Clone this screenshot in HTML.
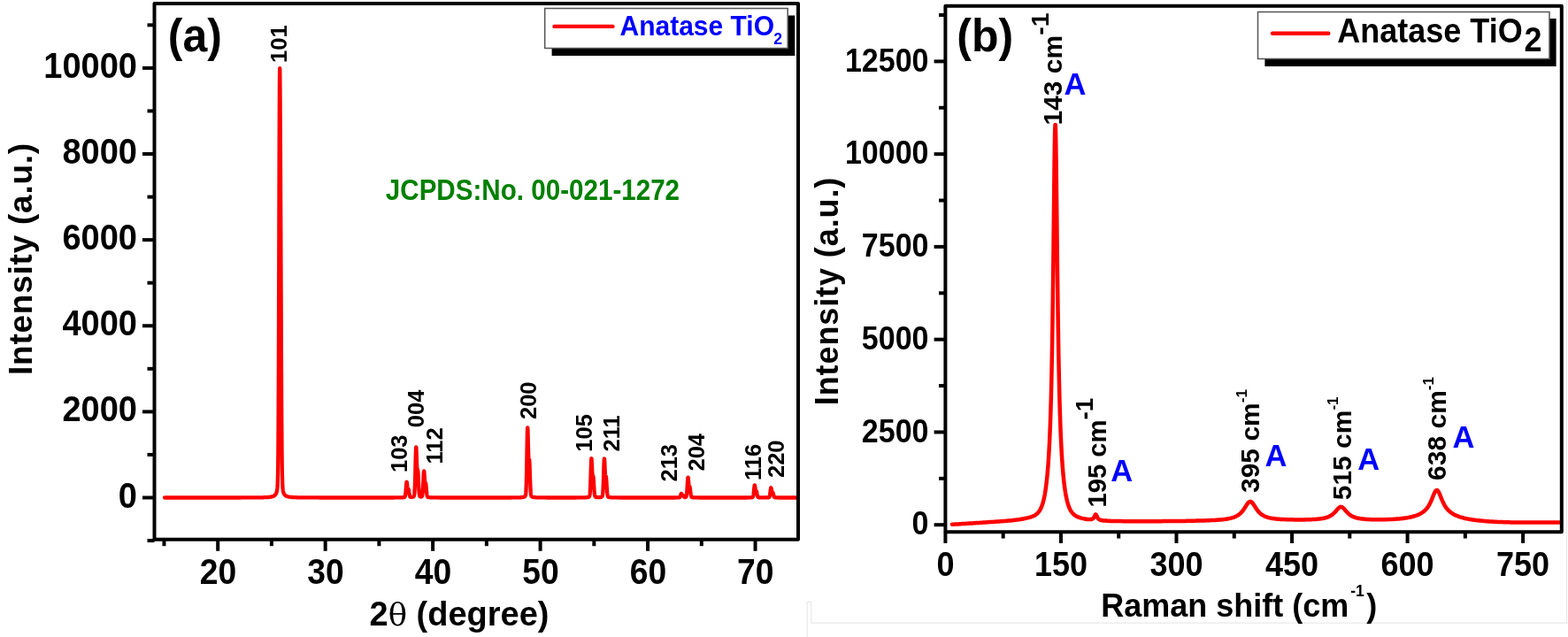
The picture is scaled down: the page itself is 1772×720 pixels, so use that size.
<!DOCTYPE html>
<html><head><meta charset="utf-8"><title>Anatase TiO2 XRD and Raman</title>
<style>html,body{margin:0;padding:0;background:#fff;} body{width:1772px;height:720px;overflow:hidden;} svg{display:block;}</style>
</head><body>
<svg width="1772" height="720" viewBox="0 0 1772 720">
<rect x="0" y="0" width="1772" height="720" fill="#ffffff"/>
<g stroke="#e9e9e9" stroke-width="1.2" fill="none">
<path d="M912.3,720 V680.3 H916.7 V704.2 H1772"/>
<path d="M1770.5,0 V704.2"/>
</g>
<polyline points="186.0,562.5 187.0,562.5 188.0,562.5 189.0,562.5 190.0,562.5 191.0,562.5 192.0,562.5 193.0,562.5 194.0,562.5 195.0,562.5 196.0,562.5 197.0,562.5 198.0,562.5 199.0,562.5 200.0,562.5 201.0,562.5 202.0,562.5 203.0,562.5 204.0,562.5 205.0,562.5 206.0,562.5 207.0,562.5 208.0,562.5 209.0,562.5 210.0,562.5 211.0,562.5 212.0,562.5 213.0,562.5 214.0,562.5 215.0,562.5 216.0,562.5 217.0,562.5 218.0,562.5 219.0,562.5 220.0,562.5 221.0,562.5 222.0,562.5 223.0,562.5 224.0,562.5 225.0,562.5 226.0,562.5 227.0,562.5 228.0,562.5 229.0,562.5 230.0,562.5 231.0,562.5 232.0,562.5 233.0,562.5 234.0,562.5 235.0,562.5 236.0,562.5 237.0,562.5 238.0,562.5 239.0,562.5 240.0,562.5 241.0,562.5 242.0,562.5 243.0,562.5 244.0,562.5 245.0,562.5 246.0,562.5 247.0,562.5 248.0,562.5 249.0,562.5 250.0,562.5 251.0,562.5 252.0,562.5 253.0,562.5 254.0,562.5 255.0,562.5 256.0,562.5 257.0,562.5 258.0,562.5 259.0,562.5 260.0,562.5 261.0,562.5 262.0,562.5 263.0,562.5 264.0,562.5 265.0,562.5 266.0,562.5 267.0,562.5 268.0,562.5 269.0,562.5 270.0,562.5 271.0,562.5 272.0,562.5 273.0,562.4 274.0,562.4 275.0,562.4 276.0,562.4 277.0,562.4 278.0,562.4 279.0,562.4 280.0,562.4 281.0,562.4 282.0,562.4 283.0,562.4 284.0,562.4 285.0,562.4 286.0,562.4 287.0,562.4 288.0,562.4 289.0,562.4 290.0,562.4 291.0,562.4 292.0,562.3 293.0,562.3 294.0,562.3 295.0,562.3 296.0,562.3 297.0,562.3 298.0,562.2 299.0,562.2 300.0,562.2 301.0,562.1 302.0,562.1 303.0,562.0 304.0,561.9 305.0,561.8 306.0,561.6 307.0,561.4 308.0,561.2 308.1,561.2 308.2,561.1 308.3,561.1 308.4,561.1 308.5,561.0 308.6,561.0 308.7,560.9 308.8,560.9 308.9,560.9 309.0,560.8 309.1,560.8 309.2,560.7 309.3,560.7 309.4,560.6 309.5,560.6 309.6,560.5 309.7,560.4 309.8,560.4 309.9,560.3 310.0,560.2 310.1,560.2 310.2,560.1 310.3,560.0 310.4,559.9 310.5,559.8 310.6,559.8 310.7,559.7 310.8,559.6 310.9,559.4 311.0,559.3 311.1,559.2 311.2,559.1 311.3,559.0 311.4,558.8 311.5,558.7 311.6,558.5 311.7,558.3 311.8,558.2 311.9,558.0 312.0,557.8 312.1,557.5 312.2,557.3 312.3,557.0 312.4,556.8 312.5,556.5 312.6,556.2 312.7,555.8 312.8,555.4 312.9,555.0 313.0,554.5 313.1,554.0 313.2,553.4 313.3,552.6 313.4,551.7 313.5,550.5 313.6,549.0 313.7,547.1 313.8,544.7 313.9,541.5 314.0,537.3 314.1,532.0 314.2,525.1 314.3,516.3 314.4,505.4 314.5,492.0 314.6,475.8 314.7,456.5 314.8,434.0 314.9,408.4 315.0,379.8 315.1,348.5 315.2,315.1 315.3,280.4 315.4,245.3 315.5,210.9 315.6,178.4 315.7,148.9 315.8,123.5 315.9,103.2 316.0,88.6 316.1,80.0 316.2,77.1 316.3,79.7 316.4,87.0 316.5,98.1 316.6,112.4 316.7,129.1 316.8,147.6 316.9,167.5 317.0,188.5 317.1,210.6 317.2,233.4 317.3,257.1 317.4,281.3 317.5,305.8 317.6,330.4 317.7,354.6 317.8,378.2 317.9,400.8 318.0,422.0 318.1,441.7 318.2,459.6 318.3,475.7 318.4,489.8 318.5,502.1 318.6,512.5 318.7,521.3 318.8,528.5 318.9,534.3 319.0,539.1 319.1,542.8 319.2,545.8 319.3,548.1 319.4,549.9 319.5,551.3 319.6,552.4 319.7,553.3 319.8,554.1 319.9,554.7 320.0,555.2 320.1,555.6 320.2,556.0 320.3,556.4 320.4,556.7 320.5,557.0 320.6,557.2 320.7,557.5 320.8,557.7 320.9,557.9 321.0,558.1 321.1,558.3 321.2,558.5 321.3,558.6 321.4,558.8 321.5,558.9 321.6,559.1 321.7,559.2 321.8,559.3 321.9,559.4 322.0,559.5 322.1,559.6 322.2,559.7 322.3,559.8 322.4,559.9 322.5,560.0 322.6,560.1 322.7,560.2 322.8,560.2 322.9,560.3 323.0,560.4 323.1,560.4 323.2,560.5 323.3,560.5 323.4,560.6 323.5,560.7 323.6,560.7 323.7,560.8 323.8,560.8 323.9,560.8 324.0,560.9 325.0,561.2 326.0,561.5 327.0,561.7 328.0,561.8 329.0,561.9 330.0,562.0 331.0,562.1 332.0,562.1 333.0,562.2 334.0,562.2 335.0,562.2 336.0,562.3 337.0,562.3 338.0,562.3 339.0,562.3 340.0,562.3 341.0,562.3 342.0,562.4 343.0,562.4 344.0,562.4 345.0,562.4 346.0,562.4 347.0,562.4 348.0,562.4 349.0,562.4 350.0,562.4 351.0,562.4 352.0,562.4 353.0,562.4 354.0,562.4 355.0,562.4 356.0,562.4 357.0,562.4 358.0,562.4 359.0,562.4 360.0,562.4 361.0,562.5 362.0,562.5 363.0,562.5 364.0,562.5 365.0,562.5 366.0,562.5 367.0,562.5 368.0,562.5 369.0,562.5 370.0,562.5 371.0,562.5 372.0,562.5 373.0,562.5 374.0,562.5 375.0,562.5 376.0,562.5 377.0,562.5 378.0,562.5 379.0,562.5 380.0,562.5 381.0,562.5 382.0,562.5 383.0,562.5 384.0,562.5 385.0,562.5 386.0,562.5 387.0,562.5 388.0,562.5 389.0,562.5 390.0,562.5 391.0,562.5 392.0,562.5 393.0,562.5 394.0,562.5 395.0,562.5 396.0,562.5 397.0,562.5 398.0,562.5 399.0,562.5 400.0,562.5 401.0,562.5 402.0,562.5 403.0,562.5 404.0,562.5 405.0,562.5 406.0,562.5 407.0,562.5 408.0,562.5 409.0,562.5 410.0,562.5 411.0,562.5 412.0,562.5 413.0,562.5 414.0,562.5 415.0,562.5 416.0,562.5 417.0,562.5 418.0,562.5 419.0,562.5 420.0,562.5 421.0,562.5 422.0,562.5 423.0,562.5 424.0,562.5 425.0,562.5 426.0,562.5 427.0,562.5 428.0,562.5 429.0,562.5 430.0,562.5 431.0,562.5 432.0,562.5 433.0,562.5 434.0,562.5 435.0,562.5 436.0,562.5 437.0,562.5 438.0,562.5 439.0,562.5 440.0,562.5 441.0,562.5 442.0,562.5 443.0,562.5 444.0,562.5 445.0,562.5 446.0,562.4 447.0,562.4 448.0,562.4 449.0,562.4 450.0,562.4 451.0,562.4 451.6,562.4 451.7,562.4 451.8,562.4 451.9,562.4 452.0,562.4 452.1,562.4 452.2,562.4 452.3,562.4 452.4,562.4 452.5,562.4 452.6,562.4 452.7,562.4 452.8,562.4 452.9,562.4 453.0,562.4 453.1,562.4 453.2,562.4 453.3,562.4 453.4,562.4 453.5,562.4 453.6,562.4 453.7,562.3 453.8,562.3 453.9,562.3 454.0,562.3 454.1,562.3 454.2,562.3 454.3,562.3 454.4,562.3 454.5,562.3 454.6,562.3 454.7,562.3 454.8,562.3 454.9,562.3 455.0,562.3 455.1,562.3 455.2,562.3 455.3,562.3 455.4,562.3 455.5,562.3 455.6,562.2 455.7,562.2 455.8,562.2 455.9,562.2 456.0,562.2 456.1,562.2 456.2,562.2 456.3,562.2 456.4,562.1 456.5,562.1 456.6,562.1 456.7,562.1 456.8,562.1 456.9,562.0 457.0,562.0 457.1,561.9 457.2,561.9 457.3,561.8 457.4,561.7 457.5,561.6 457.6,561.4 457.7,561.2 457.8,560.9 457.9,560.5 458.0,560.1 458.1,559.5 458.2,558.9 458.3,558.1 458.4,557.2 458.5,556.1 458.6,555.0 458.7,553.7 458.8,552.4 458.9,551.1 459.0,549.7 459.1,548.4 459.2,547.3 459.3,546.3 459.4,545.5 459.5,545.0 459.6,544.7 459.7,544.8 459.8,545.1 459.9,545.6 460.0,546.4 460.1,547.2 460.2,548.2 460.3,549.1 460.4,550.0 460.5,550.8 460.6,551.4 460.7,551.9 460.8,552.3 460.9,552.6 461.0,552.7 461.1,552.7 461.2,552.7 461.3,552.6 461.4,552.6 461.5,552.7 461.6,552.8 461.7,553.1 461.8,553.4 461.9,553.9 462.0,554.4 462.1,555.0 462.2,555.7 462.3,556.4 462.4,557.1 462.5,557.7 462.6,558.4 462.7,559.0 462.8,559.5 462.9,559.9 463.0,560.3 463.1,560.7 463.2,561.0 463.3,561.2 463.4,561.4 463.5,561.5 463.6,561.6 463.7,561.7 463.8,561.8 463.9,561.8 464.0,561.8 464.1,561.9 464.2,561.9 464.3,561.9 464.4,561.9 464.5,561.9 464.6,561.9 464.7,561.9 464.8,561.9 464.9,561.9 465.0,561.9 465.1,561.9 465.2,561.9 465.3,561.9 465.4,561.9 465.5,561.9 465.6,561.8 465.7,561.8 465.8,561.8 465.9,561.8 466.0,561.8 466.1,561.8 466.2,561.7 466.3,561.7 466.4,561.7 466.5,561.7 466.6,561.6 466.7,561.6 466.8,561.6 466.9,561.5 467.0,561.5 467.1,561.4 467.2,561.4 467.3,561.3 467.4,561.2 467.5,561.1 467.6,561.0 467.7,560.9 467.8,560.7 467.9,560.4 468.0,560.1 468.1,559.7 468.2,559.1 468.3,558.4 468.4,557.5 468.5,556.3 468.6,554.9 468.7,553.1 468.8,551.0 468.9,548.4 469.0,545.5 469.1,542.1 469.2,538.4 469.3,534.4 469.4,530.1 469.5,525.7 469.6,521.4 469.7,517.3 469.8,513.5 469.9,510.3 470.0,507.8 470.1,506.2 470.2,505.4 470.3,505.5 470.4,506.5 470.5,508.3 470.6,510.7 470.7,513.5 470.8,516.5 470.9,519.5 471.0,522.3 471.1,524.9 471.2,527.0 471.3,528.7 471.4,530.0 471.5,530.7 471.6,531.1 471.7,531.2 471.8,531.1 471.9,531.0 472.0,531.0 472.1,531.1 472.2,531.6 472.3,532.4 472.4,533.5 472.5,535.0 472.6,536.8 472.7,538.8 472.8,541.0 472.9,543.2 473.0,545.4 473.1,547.6 473.2,549.7 473.3,551.6 473.4,553.3 473.5,554.8 473.6,556.1 473.7,557.2 473.8,558.1 473.9,558.8 474.0,559.4 474.1,559.9 474.2,560.3 474.3,560.5 474.4,560.8 474.5,560.9 474.6,561.1 474.7,561.2 474.8,561.2 474.9,561.3 475.0,561.3 475.1,561.4 475.2,561.4 475.3,561.4 475.4,561.4 475.5,561.5 475.6,561.5 475.7,561.5 475.8,561.5 475.9,561.5 476.0,561.5 476.1,561.5 476.2,561.4 476.3,561.4 476.4,561.4 476.5,561.3 476.6,561.3 476.7,561.2 476.8,561.1 476.9,560.9 477.0,560.7 477.1,560.4 477.2,560.1 477.3,559.6 477.4,559.0 477.5,558.3 477.6,557.3 477.7,556.2 477.8,554.9 477.9,553.3 478.0,551.6 478.1,549.6 478.2,547.5 478.3,545.3 478.4,543.0 478.5,540.8 478.6,538.6 478.7,536.6 478.8,535.0 478.9,533.6 479.0,532.8 479.1,532.4 479.2,532.5 479.3,533.0 479.4,533.9 479.5,535.2 479.6,536.6 479.7,538.2 479.8,539.8 479.9,541.3 480.0,542.7 480.1,543.8 480.2,544.7 480.3,545.3 480.4,545.7 480.5,545.9 480.6,546.0 480.7,546.0 480.8,545.9 480.9,545.9 481.0,546.0 481.1,546.2 481.2,546.6 481.3,547.2 481.4,548.0 481.5,549.0 481.6,550.0 481.7,551.2 481.8,552.3 481.9,553.5 482.0,554.7 482.1,555.8 482.2,556.8 482.3,557.7 482.4,558.5 482.5,559.1 482.6,559.7 482.7,560.2 482.8,560.6 482.9,560.9 483.0,561.2 483.1,561.4 483.2,561.5 483.3,561.6 483.4,561.7 483.5,561.8 483.6,561.9 483.7,561.9 483.8,561.9 483.9,562.0 484.0,562.0 484.1,562.0 484.2,562.0 484.3,562.1 484.4,562.1 484.5,562.1 484.6,562.1 484.7,562.1 484.8,562.1 484.9,562.2 485.0,562.2 485.1,562.2 485.2,562.2 485.3,562.2 485.4,562.2 485.5,562.2 485.6,562.2 485.7,562.2 485.8,562.2 485.9,562.2 486.0,562.3 486.1,562.3 486.2,562.3 486.3,562.3 486.4,562.3 486.5,562.3 486.6,562.3 486.7,562.3 486.8,562.3 486.9,562.3 487.0,562.3 487.1,562.3 488.0,562.3 489.0,562.4 490.0,562.4 491.0,562.4 492.0,562.4 493.0,562.4 494.0,562.4 495.0,562.4 496.0,562.4 497.0,562.5 498.0,562.5 499.0,562.5 500.0,562.5 501.0,562.5 502.0,562.5 503.0,562.5 504.0,562.5 505.0,562.5 506.0,562.5 507.0,562.5 508.0,562.5 509.0,562.5 510.0,562.5 511.0,562.5 512.0,562.5 513.0,562.5 514.0,562.5 515.0,562.5 516.0,562.5 517.0,562.5 518.0,562.5 519.0,562.5 520.0,562.5 521.0,562.5 522.0,562.5 523.0,562.5 524.0,562.5 525.0,562.5 526.0,562.5 527.0,562.5 528.0,562.5 529.0,562.5 530.0,562.5 531.0,562.5 532.0,562.5 533.0,562.5 534.0,562.5 535.0,562.5 536.0,562.5 537.0,562.5 538.0,562.5 539.0,562.5 540.0,562.5 541.0,562.5 542.0,562.5 543.0,562.5 544.0,562.5 545.0,562.5 546.0,562.5 547.0,562.5 548.0,562.5 549.0,562.5 550.0,562.5 551.0,562.5 552.0,562.5 553.0,562.5 554.0,562.5 555.0,562.5 556.0,562.5 557.0,562.5 558.0,562.5 559.0,562.5 560.0,562.5 561.0,562.5 562.0,562.5 563.0,562.5 564.0,562.5 565.0,562.5 566.0,562.5 567.0,562.5 568.0,562.5 569.0,562.5 570.0,562.5 571.0,562.5 572.0,562.5 573.0,562.5 574.0,562.5 575.0,562.5 576.0,562.5 577.0,562.5 578.0,562.4 579.0,562.4 580.0,562.4 581.0,562.4 582.0,562.4 583.0,562.4 584.0,562.4 585.0,562.4 586.0,562.3 587.0,562.3 588.0,562.3 588.2,562.3 588.3,562.3 588.4,562.2 588.5,562.2 588.6,562.2 588.7,562.2 588.8,562.2 588.9,562.2 589.0,562.2 589.1,562.2 589.2,562.2 589.3,562.2 589.4,562.2 589.5,562.2 589.6,562.2 589.7,562.1 589.8,562.1 589.9,562.1 590.0,562.1 590.1,562.1 590.2,562.1 590.3,562.1 590.4,562.1 590.5,562.1 590.6,562.0 590.7,562.0 590.8,562.0 590.9,562.0 591.0,562.0 591.1,562.0 591.2,561.9 591.3,561.9 591.4,561.9 591.5,561.9 591.6,561.8 591.7,561.8 591.8,561.8 591.9,561.8 592.0,561.7 592.1,561.7 592.2,561.7 592.3,561.6 592.4,561.6 592.5,561.5 592.6,561.5 592.7,561.4 592.8,561.4 592.9,561.3 593.0,561.3 593.1,561.2 593.2,561.1 593.3,561.0 593.4,560.9 593.5,560.7 593.6,560.6 593.7,560.4 593.8,560.1 593.9,559.8 594.0,559.3 594.1,558.7 594.2,558.0 594.3,557.0 594.4,555.7 594.5,554.1 594.6,552.1 594.7,549.6 594.8,546.7 594.9,543.1 595.0,539.0 595.1,534.4 595.2,529.2 595.3,523.6 595.4,517.7 595.5,511.6 595.6,505.6 595.7,499.9 595.8,494.6 595.9,490.2 596.0,486.7 596.1,484.4 596.2,483.3 596.3,483.5 596.4,484.9 596.5,487.4 596.6,490.7 596.7,494.6 596.8,498.7 596.9,502.9 597.0,506.9 597.1,510.4 597.2,513.4 597.3,515.8 597.4,517.5 597.5,518.5 597.6,519.1 597.7,519.2 597.8,519.1 597.9,519.0 598.0,518.9 598.1,519.1 598.2,519.8 598.3,520.9 598.4,522.4 598.5,524.5 598.6,527.0 598.7,529.8 598.8,532.8 598.9,535.9 599.0,539.1 599.1,542.1 599.2,545.0 599.3,547.6 599.4,550.0 599.5,552.1 599.6,553.9 599.7,555.4 599.8,556.7 599.9,557.7 600.0,558.5 600.1,559.2 600.2,559.7 600.3,560.1 600.4,560.4 600.5,560.7 600.6,560.9 600.7,561.0 600.8,561.1 600.9,561.2 601.0,561.3 601.1,561.4 601.2,561.5 601.3,561.5 601.4,561.6 601.5,561.6 601.6,561.6 601.7,561.7 601.8,561.7 601.9,561.8 602.0,561.8 602.1,561.8 602.2,561.8 602.3,561.9 602.4,561.9 602.5,561.9 602.6,561.9 602.7,562.0 602.8,562.0 602.9,562.0 603.0,562.0 603.1,562.0 603.2,562.0 603.3,562.1 603.4,562.1 603.5,562.1 603.6,562.1 603.7,562.1 603.8,562.1 603.9,562.1 604.0,562.1 604.1,562.1 604.2,562.2 605.0,562.2 606.0,562.3 607.0,562.3 608.0,562.4 609.0,562.4 610.0,562.4 611.0,562.4 612.0,562.4 613.0,562.4 614.0,562.4 615.0,562.4 616.0,562.4 617.0,562.4 618.0,562.5 619.0,562.5 620.0,562.5 621.0,562.5 622.0,562.5 623.0,562.5 624.0,562.5 625.0,562.5 626.0,562.5 627.0,562.5 628.0,562.5 629.0,562.5 630.0,562.5 631.0,562.5 632.0,562.5 633.0,562.5 634.0,562.5 635.0,562.5 636.0,562.5 637.0,562.5 638.0,562.5 639.0,562.5 640.0,562.5 641.0,562.5 642.0,562.5 643.0,562.5 644.0,562.5 645.0,562.5 646.0,562.5 647.0,562.5 648.0,562.5 649.0,562.5 650.0,562.5 651.0,562.5 652.0,562.4 653.0,562.4 654.0,562.4 655.0,562.4 656.0,562.4 657.0,562.4 658.0,562.4 659.0,562.4 660.0,562.4 660.4,562.3 660.5,562.3 660.6,562.3 660.7,562.3 660.8,562.3 660.9,562.3 661.0,562.3 661.1,562.3 661.2,562.3 661.3,562.3 661.4,562.3 661.5,562.3 661.6,562.3 661.7,562.3 661.8,562.3 661.9,562.3 662.0,562.3 662.1,562.3 662.2,562.3 662.3,562.3 662.4,562.2 662.5,562.2 662.6,562.2 662.7,562.2 662.8,562.2 662.9,562.2 663.0,562.2 663.1,562.2 663.2,562.2 663.3,562.2 663.4,562.2 663.5,562.1 663.6,562.1 663.7,562.1 663.8,562.1 663.9,562.1 664.0,562.1 664.1,562.1 664.2,562.0 664.3,562.0 664.4,562.0 664.5,562.0 664.6,562.0 664.7,561.9 664.8,561.9 664.9,561.9 665.0,561.8 665.1,561.8 665.2,561.8 665.3,561.7 665.4,561.7 665.5,561.6 665.6,561.6 665.7,561.5 665.8,561.4 665.9,561.3 666.0,561.1 666.1,560.9 666.2,560.7 666.3,560.4 666.4,559.9 666.5,559.4 666.6,558.7 666.7,557.8 666.8,556.6 666.9,555.3 667.0,553.6 667.1,551.6 667.2,549.3 667.3,546.7 667.4,543.8 667.5,540.7 667.6,537.4 667.7,534.0 667.8,530.6 667.9,527.4 668.0,524.5 668.1,522.0 668.2,520.0 668.3,518.7 668.4,518.1 668.5,518.3 668.6,519.0 668.7,520.4 668.8,522.3 668.9,524.4 669.0,526.8 669.1,529.1 669.2,531.3 669.3,533.3 669.4,535.0 669.5,536.3 669.6,537.2 669.7,537.8 669.8,538.1 669.9,538.2 670.0,538.2 670.1,538.1 670.2,538.1 670.3,538.2 670.4,538.5 670.5,539.1 670.6,540.0 670.7,541.2 670.8,542.6 670.9,544.1 671.0,545.8 671.1,547.6 671.2,549.3 671.3,551.0 671.4,552.6 671.5,554.1 671.6,555.4 671.7,556.6 671.8,557.6 671.9,558.5 672.0,559.2 672.1,559.7 672.2,560.2 672.3,560.6 672.4,560.9 672.5,561.1 672.6,561.3 672.7,561.4 672.8,561.5 672.9,561.6 673.0,561.7 673.1,561.7 673.2,561.8 673.3,561.8 673.4,561.8 673.5,561.9 673.6,561.9 673.7,561.9 673.8,561.9 673.9,561.9 674.0,562.0 674.1,562.0 674.2,562.0 674.3,562.0 674.4,562.0 674.5,562.0 674.6,562.0 674.7,562.0 674.8,562.1 674.9,562.1 675.0,562.1 675.1,562.1 675.2,562.1 675.3,562.1 675.4,562.1 675.5,562.1 675.6,562.1 675.7,562.1 675.8,562.1 675.9,562.1 676.0,562.1 676.1,562.1 676.2,562.1 676.3,562.1 676.4,562.1 676.5,562.1 676.6,562.1 676.7,562.1 676.8,562.1 676.9,562.1 677.0,562.1 677.1,562.1 677.2,562.1 677.3,562.1 677.4,562.1 677.5,562.1 677.6,562.1 677.7,562.1 677.8,562.1 677.9,562.1 678.0,562.0 678.1,562.0 678.2,562.0 678.3,562.0 678.4,562.0 678.5,562.0 678.6,562.0 678.7,562.0 678.8,561.9 678.9,561.9 679.0,561.9 679.1,561.9 679.2,561.9 679.3,561.8 679.4,561.8 679.5,561.8 679.6,561.8 679.7,561.7 679.8,561.7 679.9,561.6 680.0,561.6 680.1,561.5 680.2,561.4 680.3,561.4 680.4,561.2 680.5,561.1 680.6,560.9 680.7,560.7 680.8,560.3 680.9,559.9 681.0,559.4 681.1,558.7 681.2,557.8 681.3,556.7 681.4,555.3 681.5,553.6 681.6,551.7 681.7,549.4 681.8,546.8 681.9,544.0 682.0,540.9 682.1,537.6 682.2,534.2 682.3,530.9 682.4,527.7 682.5,524.8 682.6,522.3 682.7,520.4 682.8,519.1 682.9,518.5 683.0,518.6 683.1,519.4 683.2,520.8 683.3,522.6 683.4,524.8 683.5,527.1 683.6,529.4 683.7,531.6 683.8,533.6 683.9,535.2 684.0,536.5 684.1,537.5 684.2,538.1 684.3,538.4 684.4,538.4 684.5,538.4 684.6,538.3 684.7,538.3 684.8,538.4 684.9,538.8 685.0,539.4 685.1,540.3 685.2,541.4 685.3,542.8 685.4,544.3 685.5,546.0 685.6,547.7 685.7,549.5 685.8,551.1 685.9,552.7 686.0,554.2 686.1,555.5 686.2,556.7 686.3,557.7 686.4,558.5 686.5,559.2 686.6,559.8 686.7,560.3 686.8,560.6 686.9,560.9 687.0,561.2 687.1,561.3 687.2,561.5 687.3,561.6 687.4,561.7 687.5,561.7 687.6,561.8 687.7,561.8 687.8,561.9 687.9,561.9 688.0,561.9 688.1,562.0 688.2,562.0 688.3,562.0 688.4,562.0 688.5,562.0 688.6,562.1 688.7,562.1 688.8,562.1 688.9,562.1 689.0,562.1 689.1,562.1 689.2,562.1 689.3,562.2 689.4,562.2 689.5,562.2 689.6,562.2 689.7,562.2 689.8,562.2 689.9,562.2 690.0,562.2 690.1,562.2 690.2,562.2 690.3,562.3 690.4,562.3 690.5,562.3 690.6,562.3 690.7,562.3 690.8,562.3 690.9,562.3 691.0,562.3 692.0,562.3 693.0,562.4 694.0,562.4 695.0,562.4 696.0,562.4 697.0,562.4 698.0,562.4 699.0,562.4 700.0,562.5 701.0,562.5 702.0,562.5 703.0,562.5 704.0,562.5 705.0,562.5 706.0,562.5 707.0,562.5 708.0,562.5 709.0,562.5 710.0,562.5 711.0,562.5 712.0,562.5 713.0,562.5 714.0,562.5 715.0,562.5 716.0,562.5 717.0,562.5 718.0,562.5 719.0,562.5 720.0,562.5 721.0,562.5 722.0,562.5 723.0,562.5 724.0,562.5 725.0,562.5 726.0,562.5 727.0,562.5 728.0,562.5 729.0,562.5 730.0,562.5 731.0,562.5 732.0,562.5 733.0,562.5 734.0,562.5 735.0,562.5 736.0,562.5 737.0,562.5 738.0,562.5 739.0,562.5 740.0,562.5 741.0,562.5 742.0,562.5 743.0,562.5 744.0,562.5 745.0,562.5 746.0,562.5 747.0,562.5 748.0,562.5 749.0,562.5 750.0,562.5 751.0,562.5 752.0,562.5 753.0,562.5 754.0,562.5 755.0,562.5 756.0,562.5 757.0,562.5 758.0,562.5 759.0,562.5 760.0,562.5 761.0,562.5 762.0,562.5 762.1,562.5 762.2,562.5 762.3,562.5 762.4,562.5 762.5,562.5 762.6,562.5 762.7,562.5 762.8,562.5 762.9,562.5 763.0,562.5 763.1,562.5 763.2,562.5 763.3,562.5 763.4,562.5 763.5,562.5 763.6,562.5 763.7,562.5 763.8,562.4 763.9,562.4 764.0,562.4 764.1,562.4 764.2,562.4 764.3,562.4 764.4,562.4 764.5,562.4 764.6,562.4 764.7,562.4 764.8,562.4 764.9,562.4 765.0,562.4 765.1,562.4 765.2,562.4 765.3,562.4 765.4,562.4 765.5,562.4 765.6,562.4 765.7,562.4 765.8,562.4 765.9,562.4 766.0,562.4 766.1,562.4 766.2,562.4 766.3,562.4 766.4,562.4 766.5,562.4 766.6,562.4 766.7,562.4 766.8,562.4 766.9,562.4 767.0,562.4 767.1,562.4 767.2,562.4 767.3,562.4 767.4,562.3 767.5,562.3 767.6,562.3 767.7,562.3 767.8,562.3 767.9,562.2 768.0,562.2 768.1,562.1 768.2,562.1 768.3,562.0 768.4,561.8 768.5,561.7 768.6,561.5 768.7,561.3 768.8,561.1 768.9,560.8 769.0,560.5 769.1,560.2 769.2,559.9 769.3,559.5 769.4,559.2 769.5,558.8 769.6,558.5 769.7,558.3 769.8,558.1 769.9,557.9 770.0,557.9 770.1,557.9 770.2,558.0 770.3,558.1 770.4,558.3 770.5,558.5 770.6,558.7 770.7,559.0 770.8,559.2 770.9,559.4 771.0,559.6 771.1,559.7 771.2,559.8 771.3,559.9 771.4,559.9 771.5,559.9 771.6,559.9 771.7,559.9 771.8,559.9 771.9,559.9 772.0,559.9 772.1,560.0 772.2,560.1 772.3,560.2 772.4,560.3 772.5,560.5 772.6,560.6 772.7,560.8 772.8,561.0 772.9,561.1 773.0,561.3 773.1,561.4 773.2,561.6 773.3,561.7 773.4,561.8 773.5,561.8 773.6,561.9 773.7,562.0 773.8,562.0 773.9,562.0 774.0,562.0 774.1,562.0 774.2,562.0 774.3,562.0 774.4,562.0 774.5,562.0 774.6,562.0 774.7,562.0 774.8,561.9 774.9,561.9 775.0,561.8 775.1,561.8 775.2,561.7 775.3,561.5 775.4,561.4 775.5,561.1 775.6,560.9 775.7,560.5 775.8,560.0 775.9,559.5 776.0,558.7 776.1,557.9 776.2,556.9 776.3,555.7 776.4,554.4 776.5,552.9 776.6,551.2 776.7,549.5 776.8,547.8 776.9,546.1 777.0,544.4 777.1,542.9 777.2,541.6 777.3,540.6 777.4,540.0 777.5,539.6 777.6,539.7 777.7,540.1 777.8,540.8 777.9,541.8 778.0,542.9 778.1,544.1 778.2,545.3 778.3,546.4 778.4,547.5 778.5,548.3 778.6,549.0 778.7,549.5 778.8,549.8 778.9,550.0 779.0,550.0 779.1,550.0 779.2,549.9 779.3,549.9 779.4,550.0 779.5,550.2 779.6,550.5 779.7,550.9 779.8,551.5 779.9,552.2 780.0,553.1 780.1,553.9 780.2,554.8 780.3,555.7 780.4,556.6 780.5,557.4 780.6,558.2 780.7,558.9 780.8,559.5 780.9,560.0 781.0,560.4 781.1,560.8 781.2,561.1 781.3,561.3 781.4,561.5 781.5,561.7 781.6,561.8 781.7,561.9 781.8,562.0 781.9,562.0 782.0,562.1 782.1,562.1 782.2,562.1 782.3,562.2 782.4,562.2 782.5,562.2 782.6,562.2 782.7,562.2 782.8,562.2 782.9,562.2 783.0,562.3 783.1,562.3 783.2,562.3 783.3,562.3 783.4,562.3 783.5,562.3 783.6,562.3 783.7,562.3 783.8,562.3 783.9,562.3 784.0,562.3 784.1,562.3 784.2,562.3 784.3,562.4 784.4,562.4 784.5,562.4 784.6,562.4 784.7,562.4 784.8,562.4 784.9,562.4 785.0,562.4 785.1,562.4 785.2,562.4 785.3,562.4 785.4,562.4 785.5,562.4 786.0,562.4 787.0,562.4 788.0,562.4 789.0,562.4 790.0,562.5 791.0,562.5 792.0,562.5 793.0,562.5 794.0,562.5 795.0,562.5 796.0,562.5 797.0,562.5 798.0,562.5 799.0,562.5 800.0,562.5 801.0,562.5 802.0,562.5 803.0,562.5 804.0,562.5 805.0,562.5 806.0,562.5 807.0,562.5 808.0,562.5 809.0,562.5 810.0,562.5 811.0,562.5 812.0,562.5 813.0,562.5 814.0,562.5 815.0,562.5 816.0,562.5 817.0,562.5 818.0,562.5 819.0,562.5 820.0,562.5 821.0,562.5 822.0,562.5 823.0,562.5 824.0,562.5 825.0,562.5 826.0,562.5 827.0,562.5 828.0,562.5 829.0,562.5 830.0,562.5 831.0,562.5 832.0,562.5 833.0,562.5 834.0,562.5 835.0,562.5 836.0,562.5 837.0,562.5 838.0,562.5 839.0,562.5 840.0,562.5 841.0,562.5 842.0,562.5 843.0,562.5 844.0,562.5 844.8,562.5 844.9,562.5 845.0,562.5 845.1,562.4 845.2,562.4 845.3,562.4 845.4,562.4 845.5,562.4 845.6,562.4 845.7,562.4 845.8,562.4 845.9,562.4 846.0,562.4 846.1,562.4 846.2,562.4 846.3,562.4 846.4,562.4 846.5,562.4 846.6,562.4 846.7,562.4 846.8,562.4 846.9,562.4 847.0,562.4 847.1,562.4 847.2,562.4 847.3,562.4 847.4,562.4 847.5,562.4 847.6,562.4 847.7,562.4 847.8,562.4 847.9,562.4 848.0,562.4 848.1,562.4 848.2,562.4 848.3,562.4 848.4,562.4 848.5,562.4 848.6,562.4 848.7,562.4 848.8,562.3 848.9,562.3 849.0,562.3 849.1,562.3 849.2,562.3 849.3,562.3 849.4,562.3 849.5,562.3 849.6,562.3 849.7,562.3 849.8,562.2 849.9,562.2 850.0,562.2 850.1,562.2 850.2,562.2 850.3,562.1 850.4,562.1 850.5,562.0 850.6,561.9 850.7,561.8 850.8,561.7 850.9,561.5 851.0,561.3 851.1,561.0 851.2,560.6 851.3,560.2 851.4,559.7 851.5,559.1 851.6,558.3 851.7,557.5 851.8,556.6 851.9,555.6 852.0,554.5 852.1,553.5 852.2,552.4 852.3,551.4 852.4,550.5 852.5,549.7 852.6,549.1 852.7,548.6 852.8,548.5 852.9,548.5 853.0,548.7 853.1,549.2 853.2,549.8 853.3,550.4 853.4,551.2 853.5,551.9 853.6,552.6 853.7,553.3 853.8,553.8 853.9,554.2 854.0,554.5 854.1,554.7 854.2,554.8 854.3,554.8 854.4,554.8 854.5,554.8 854.6,554.8 854.7,554.8 854.8,554.9 854.9,555.1 855.0,555.4 855.1,555.8 855.2,556.2 855.3,556.7 855.4,557.2 855.5,557.8 855.6,558.3 855.7,558.9 855.8,559.4 855.9,559.8 856.0,560.3 856.1,560.6 856.2,561.0 856.3,561.2 856.4,561.5 856.5,561.6 856.6,561.8 856.7,561.9 856.8,562.0 856.9,562.1 857.0,562.1 857.1,562.2 857.2,562.2 857.3,562.2 857.4,562.2 857.5,562.3 857.6,562.3 857.7,562.3 857.8,562.3 857.9,562.3 858.0,562.3 858.1,562.3 858.2,562.3 858.3,562.3 858.4,562.3 858.5,562.4 858.6,562.4 858.7,562.4 858.8,562.4 858.9,562.4 859.0,562.4 859.1,562.4 859.2,562.4 859.3,562.4 859.4,562.4 859.5,562.4 859.6,562.4 859.7,562.4 859.8,562.4 859.9,562.4 860.0,562.4 860.1,562.4 860.2,562.4 860.3,562.4 860.4,562.4 860.5,562.4 860.6,562.4 860.7,562.4 860.8,562.4 861.0,562.4 862.0,562.4 863.0,562.4 863.3,562.4 863.4,562.4 863.5,562.4 863.6,562.4 863.7,562.4 863.8,562.4 863.9,562.4 864.0,562.4 864.1,562.4 864.2,562.4 864.3,562.4 864.4,562.4 864.5,562.4 864.6,562.4 864.7,562.4 864.8,562.4 864.9,562.4 865.0,562.4 865.1,562.4 865.2,562.4 865.3,562.4 865.4,562.4 865.5,562.4 865.6,562.4 865.7,562.4 865.8,562.4 865.9,562.4 866.0,562.4 866.1,562.4 866.2,562.4 866.3,562.4 866.4,562.4 866.5,562.4 866.6,562.4 866.7,562.4 866.8,562.4 866.9,562.4 867.0,562.4 867.1,562.4 867.2,562.4 867.3,562.4 867.4,562.4 867.5,562.4 867.6,562.3 867.7,562.3 867.8,562.3 867.9,562.3 868.0,562.3 868.1,562.3 868.2,562.3 868.3,562.3 868.4,562.3 868.5,562.3 868.6,562.2 868.7,562.2 868.8,562.2 868.9,562.1 869.0,562.1 869.1,562.0 869.2,562.0 869.3,561.8 869.4,561.7 869.5,561.5 869.6,561.3 869.7,561.0 869.8,560.7 869.9,560.3 870.0,559.8 870.1,559.2 870.2,558.5 870.3,557.8 870.4,557.0 870.5,556.2 870.6,555.3 870.7,554.5 870.8,553.7 870.9,552.9 871.0,552.3 871.1,551.8 871.2,551.5 871.3,551.3 871.4,551.4 871.5,551.6 871.6,551.9 871.7,552.4 871.8,552.9 871.9,553.5 872.0,554.1 872.1,554.7 872.2,555.2 872.3,555.6 872.4,555.9 872.5,556.2 872.6,556.3 872.7,556.4 872.8,556.4 872.9,556.4 873.0,556.4 873.1,556.4 873.2,556.4 873.3,556.5 873.4,556.6 873.5,556.9 873.6,557.1 873.7,557.5 873.8,557.9 873.9,558.3 874.0,558.8 874.1,559.2 874.2,559.6 874.3,560.0 874.4,560.4 874.5,560.7 874.6,561.0 874.7,561.3 874.8,561.5 874.9,561.7 875.0,561.8 875.1,561.9 875.2,562.0 875.3,562.1 875.4,562.2 875.5,562.2 875.6,562.2 875.7,562.3 875.8,562.3 875.9,562.3 876.0,562.3 876.1,562.3 876.2,562.3 876.3,562.3 876.4,562.4 876.5,562.4 876.6,562.4 876.7,562.4 876.8,562.4 876.9,562.4 877.0,562.4 877.1,562.4 877.2,562.4 877.3,562.4 877.4,562.4 877.5,562.4 877.6,562.4 877.7,562.4 877.8,562.4 877.9,562.4 878.0,562.4 878.1,562.4 878.2,562.4 878.3,562.4 878.4,562.4 878.5,562.4 878.6,562.4 878.7,562.4 878.8,562.4 878.9,562.4 879.0,562.4 879.1,562.4 879.2,562.4 879.3,562.4 880.0,562.5 881.0,562.5 882.0,562.5 883.0,562.5 884.0,562.5 885.0,562.5 886.0,562.5 887.0,562.5 888.0,562.5 889.0,562.5 890.0,562.5 891.0,562.5 892.0,562.5 893.0,562.5 894.0,562.5 895.0,562.5 896.0,562.5 897.0,562.5 898.0,562.5 899.0,562.5 900.0,562.5 901.0,562.5" fill="none" stroke="#ff0000" stroke-width="4.3" stroke-linejoin="round" stroke-linecap="round"/>
<g stroke="#000" stroke-width="4.0" fill="none" stroke-linecap="butt">
<path d="M174.5,609.8 V4.0 H902.0 V609.8 Z" stroke-linejoin="round"/>
<line x1="161" y1="562.5" x2="174.5" y2="562.5"/>
<line x1="161" y1="465.38" x2="174.5" y2="465.38"/>
<line x1="161" y1="368.26" x2="174.5" y2="368.26"/>
<line x1="161" y1="271.14" x2="174.5" y2="271.14"/>
<line x1="161" y1="174.02" x2="174.5" y2="174.02"/>
<line x1="161" y1="76.9" x2="174.5" y2="76.9"/>
<line x1="166.5" y1="611.06" x2="174.5" y2="611.06"/>
<line x1="166.5" y1="513.94" x2="174.5" y2="513.94"/>
<line x1="166.5" y1="416.82" x2="174.5" y2="416.82"/>
<line x1="166.5" y1="319.7" x2="174.5" y2="319.7"/>
<line x1="166.5" y1="222.58" x2="174.5" y2="222.58"/>
<line x1="166.5" y1="125.46" x2="174.5" y2="125.46"/>
<line x1="166.5" y1="28.34" x2="174.5" y2="28.34"/>
<line x1="246.2" y1="609.8" x2="246.2" y2="622.8"/>
<line x1="367.67" y1="609.8" x2="367.67" y2="622.8"/>
<line x1="489.14" y1="609.8" x2="489.14" y2="622.8"/>
<line x1="610.61" y1="609.8" x2="610.61" y2="622.8"/>
<line x1="732.08" y1="609.8" x2="732.08" y2="622.8"/>
<line x1="853.55" y1="609.8" x2="853.55" y2="622.8"/>
<line x1="185.46" y1="609.8" x2="185.46" y2="617.2"/>
<line x1="306.94" y1="609.8" x2="306.94" y2="617.2"/>
<line x1="428.4" y1="609.8" x2="428.4" y2="617.2"/>
<line x1="549.88" y1="609.8" x2="549.88" y2="617.2"/>
<line x1="671.35" y1="609.8" x2="671.35" y2="617.2"/>
<line x1="792.82" y1="609.8" x2="792.82" y2="617.2"/>
</g>
<g font-family="'Liberation Sans', Arial, sans-serif" font-weight="bold" fill="#000">
<text transform="translate(155,573.5) scale(1,1.05)" font-size="38" text-anchor="end">0</text>
<text transform="translate(155,476.38) scale(1,1.05)" font-size="38" text-anchor="end">2000</text>
<text transform="translate(155,379.26) scale(1,1.05)" font-size="38" text-anchor="end">4000</text>
<text transform="translate(155,282.14) scale(1,1.05)" font-size="38" text-anchor="end">6000</text>
<text transform="translate(155,185.02) scale(1,1.05)" font-size="38" text-anchor="end">8000</text>
<text transform="translate(155,87.9) scale(1,1.05)" font-size="38" text-anchor="end">10000</text>
<text transform="translate(246.5,659.6) scale(1,1.1)" font-size="37.3" text-anchor="middle">20</text>
<text transform="translate(367.97,659.6) scale(1,1.1)" font-size="37.3" text-anchor="middle">30</text>
<text transform="translate(489.44,659.6) scale(1,1.1)" font-size="37.3" text-anchor="middle">40</text>
<text transform="translate(610.91,659.6) scale(1,1.1)" font-size="37.3" text-anchor="middle">50</text>
<text transform="translate(732.38,659.6) scale(1,1.1)" font-size="37.3" text-anchor="middle">60</text>
<text transform="translate(853.85,659.6) scale(1,1.1)" font-size="37.3" text-anchor="middle">70</text>
<text transform="translate(189.8,58.3) scale(1,1.035)" font-size="50">(a)</text>
<text transform="translate(36,292.5) rotate(-90)" font-size="37" letter-spacing="0.75" text-anchor="middle">Intensity (a.u.)</text>
<text x="417.5" y="706.8" font-size="38">2<tspan font-family="DejaVu Serif, 'Liberation Serif', 'Times New Roman', serif" font-weight="normal" font-size="35.5">θ</tspan> (degree)</text>
<text transform="translate(324.3,49.7) rotate(-90)" font-size="25.5" text-anchor="middle">101</text>
<text transform="translate(460,512.75) rotate(-90)" font-size="25.5" text-anchor="middle">103</text>
<text transform="translate(478.9,461.9) rotate(-90)" font-size="25.5" text-anchor="middle">004</text>
<text transform="translate(500,503.85) rotate(-90)" font-size="25.5" text-anchor="middle">112</text>
<text transform="translate(605.6,452.75) rotate(-90)" font-size="25.5" text-anchor="middle">200</text>
<text transform="translate(668.9,489.45) rotate(-90)" font-size="25.5" text-anchor="middle">105</text>
<text transform="translate(699.6,489.95) rotate(-90)" font-size="25.5" text-anchor="middle">211</text>
<text transform="translate(765,523.25) rotate(-90)" font-size="25.5" text-anchor="middle">213</text>
<text transform="translate(795.8,511.25) rotate(-90)" font-size="25.5" text-anchor="middle">204</text>
<text transform="translate(859.7,522.5) rotate(-90)" font-size="25.5" text-anchor="middle">116</text>
<text transform="translate(885.8,518.75) rotate(-90)" font-size="25.5" text-anchor="middle">220</text>
<text transform="translate(435.8,226.1) scale(1,1.1)" font-size="29.6" fill="#008000">JCPDS:No. 00-021-1272</text>
</g>
<rect x="623.6" y="17.5" width="274.7" height="45.5" fill="#000"/>
<rect x="615.7" y="9.5" width="274.5" height="45" fill="#fff" stroke="#555" stroke-width="1.5"/>
<line x1="626.5" y1="29.9" x2="692.5" y2="29.9" stroke="#ff0000" stroke-width="4.4" stroke-linecap="round"/>
<text transform="translate(700.5,40.2) scale(1,1.02)" font-family="'Liberation Sans', Arial, sans-serif" font-weight="bold" font-size="30" fill="#0000ff">Anatase TiO</text>
<text x="874.2" y="50.2" font-family="'Liberation Sans', Arial, sans-serif" font-weight="bold" font-size="17.6" fill="#0000ff">2</text>
<polyline points="1076.0,592.8 1077.0,592.7 1078.0,592.7 1079.0,592.6 1080.0,592.5 1081.0,592.5 1082.0,592.4 1083.0,592.4 1084.0,592.3 1085.0,592.2 1086.0,592.2 1087.0,592.1 1088.0,592.1 1089.0,592.0 1090.0,591.9 1091.0,591.9 1092.0,591.8 1093.0,591.8 1094.0,591.7 1095.0,591.6 1096.0,591.6 1097.0,591.5 1098.0,591.5 1099.0,591.4 1100.0,591.3 1101.0,591.3 1102.0,591.2 1103.0,591.1 1104.0,591.1 1105.0,591.0 1106.0,590.9 1107.0,590.9 1108.0,590.8 1109.0,590.8 1110.0,590.7 1111.0,590.6 1112.0,590.6 1113.0,590.5 1114.0,590.4 1115.0,590.3 1116.0,590.3 1117.0,590.2 1118.0,590.1 1119.0,590.1 1120.0,590.0 1121.0,589.9 1122.0,589.9 1123.0,589.8 1124.0,589.7 1125.0,589.7 1126.0,589.6 1127.0,589.5 1128.0,589.5 1129.0,589.4 1130.0,589.3 1131.0,589.3 1132.0,589.2 1133.0,589.1 1134.0,589.0 1135.0,589.0 1136.0,588.9 1137.0,588.8 1138.0,588.7 1139.0,588.6 1140.0,588.5 1141.0,588.4 1142.0,588.4 1143.0,588.3 1144.0,588.2 1145.0,588.0 1146.0,587.9 1147.0,587.8 1148.0,587.7 1149.0,587.6 1150.0,587.4 1151.0,587.3 1152.0,587.2 1153.0,587.0 1154.0,586.8 1155.0,586.7 1156.0,586.5 1157.0,586.3 1158.0,586.1 1159.0,585.8 1160.0,585.6 1161.0,585.4 1162.0,585.2 1163.0,584.9 1164.0,584.7 1165.0,584.4 1166.0,584.0 1167.0,583.6 1168.0,583.2 1169.0,582.7 1170.0,582.1 1171.0,581.4 1172.0,580.6 1173.0,579.6 1174.0,578.4 1175.0,577.0 1176.0,575.2 1177.0,573.0 1178.0,570.3 1179.0,566.9 1180.0,562.6 1180.7,559.1 1180.9,557.9 1181.0,557.3 1181.1,556.7 1181.3,555.5 1181.5,554.2 1181.7,552.9 1181.9,551.5 1182.0,550.7 1182.1,550.0 1182.3,548.5 1182.5,546.8 1182.7,545.1 1182.9,543.4 1183.0,542.4 1183.1,541.5 1183.3,539.6 1183.5,537.5 1183.7,535.4 1183.9,533.1 1184.0,531.9 1184.1,530.7 1184.3,528.2 1184.5,525.6 1184.7,522.8 1184.9,519.9 1185.0,518.4 1185.1,516.8 1185.3,513.5 1185.5,510.1 1185.7,506.4 1185.9,502.5 1186.0,500.5 1186.1,498.4 1186.3,494.0 1186.5,489.4 1186.7,484.4 1186.9,479.1 1187.0,476.3 1187.1,473.4 1187.3,467.3 1187.5,460.8 1187.7,453.8 1187.9,446.3 1188.0,442.3 1188.1,438.2 1188.3,429.5 1188.5,420.2 1188.7,410.1 1188.9,399.3 1189.0,393.5 1189.1,387.6 1189.3,375.1 1189.5,361.7 1189.7,347.4 1189.9,332.1 1190.0,324.2 1190.1,316.0 1190.3,299.0 1190.5,281.3 1190.7,263.1 1190.9,244.6 1191.0,235.4 1191.1,226.2 1191.3,208.3 1191.5,191.3 1191.7,175.9 1191.9,162.7 1192.0,157.0 1192.1,152.1 1192.3,144.8 1192.5,141.0 1192.7,141.0 1192.9,144.8 1193.0,148.0 1193.1,152.1 1193.3,162.7 1193.5,176.0 1193.7,191.4 1193.9,208.3 1194.0,217.2 1194.1,226.3 1194.3,244.7 1194.5,263.2 1194.7,281.4 1194.9,299.1 1195.0,307.7 1195.1,316.1 1195.3,332.2 1195.5,347.5 1195.7,361.8 1195.9,375.3 1196.0,381.6 1196.1,387.8 1196.3,399.4 1196.5,410.3 1196.7,420.3 1196.9,429.7 1197.0,434.1 1197.1,438.4 1197.3,446.5 1197.5,454.0 1197.7,461.0 1197.9,467.5 1198.0,470.6 1198.1,473.6 1198.3,479.3 1198.5,484.6 1198.7,489.6 1198.9,494.3 1199.0,496.5 1199.1,498.7 1199.3,502.8 1199.5,506.7 1199.7,510.4 1199.9,513.9 1200.0,515.5 1200.1,517.1 1200.3,520.2 1200.5,523.2 1200.7,525.9 1200.9,528.6 1201.0,529.8 1201.1,531.1 1201.3,533.5 1201.5,535.7 1201.7,537.9 1201.9,539.9 1202.0,540.9 1202.1,541.9 1202.3,543.8 1202.5,545.5 1202.7,547.2 1202.9,548.8 1203.0,549.6 1203.1,550.4 1203.3,551.9 1203.5,553.3 1203.7,554.6 1203.9,555.9 1204.0,556.6 1204.1,557.2 1204.3,558.4 1204.5,559.5 1204.7,560.6 1205.0,562.1 1206.0,566.5 1207.0,570.1 1208.0,573.0 1209.0,575.3 1210.0,577.2 1211.0,578.7 1212.0,580.0 1213.0,581.0 1214.0,581.9 1215.0,582.6 1216.0,583.2 1217.0,583.8 1218.0,584.2 1219.0,584.7 1220.0,585.0 1221.0,585.3 1222.0,585.6 1223.0,585.9 1224.0,586.1 1225.0,586.3 1226.0,586.5 1226.3,586.6 1226.5,586.6 1226.7,586.6 1226.9,586.7 1227.0,586.7 1227.1,586.7 1227.3,586.7 1227.5,586.7 1227.7,586.8 1227.9,586.8 1228.0,586.8 1228.1,586.8 1228.3,586.8 1228.5,586.9 1228.7,586.9 1228.9,586.9 1229.0,586.9 1229.1,586.9 1229.3,586.9 1229.5,587.0 1229.7,587.0 1229.9,587.0 1230.0,587.0 1230.1,587.0 1230.3,587.0 1230.5,587.0 1230.7,587.0 1230.9,587.0 1231.0,587.0 1231.1,587.0 1231.3,587.0 1231.5,587.0 1231.7,587.0 1231.9,587.0 1232.0,587.0 1232.1,587.0 1232.3,587.0 1232.5,587.0 1232.7,587.0 1232.9,586.9 1233.0,586.9 1233.1,586.9 1233.3,586.9 1233.5,586.8 1233.7,586.8 1233.9,586.7 1234.0,586.7 1234.1,586.7 1234.3,586.6 1234.5,586.5 1234.7,586.4 1234.9,586.3 1235.0,586.2 1235.1,586.2 1235.3,586.0 1235.5,585.8 1235.7,585.6 1235.9,585.4 1236.0,585.3 1236.1,585.1 1236.3,584.8 1236.5,584.5 1236.7,584.1 1236.9,583.7 1237.0,583.5 1237.1,583.3 1237.3,582.9 1237.5,582.4 1237.7,582.1 1237.9,581.8 1238.0,581.6 1238.1,581.6 1238.3,581.5 1238.5,581.6 1238.7,581.8 1238.9,582.1 1239.0,582.3 1239.1,582.6 1239.3,583.0 1239.5,583.5 1239.7,583.9 1239.9,584.4 1240.0,584.6 1240.1,584.8 1240.3,585.1 1240.5,585.5 1240.7,585.8 1240.9,586.0 1241.0,586.1 1241.1,586.3 1241.3,586.5 1241.5,586.6 1241.7,586.8 1241.9,587.0 1242.0,587.0 1242.1,587.1 1242.3,587.2 1242.5,587.3 1242.7,587.4 1242.9,587.5 1243.0,587.5 1243.1,587.6 1243.3,587.6 1243.5,587.7 1243.7,587.8 1243.9,587.8 1244.0,587.9 1244.1,587.9 1244.3,587.9 1244.5,588.0 1244.7,588.0 1244.9,588.1 1245.0,588.1 1245.1,588.1 1245.3,588.1 1245.5,588.2 1245.7,588.2 1245.9,588.2 1246.0,588.2 1246.1,588.3 1246.3,588.3 1246.5,588.3 1246.7,588.3 1246.9,588.4 1247.0,588.4 1247.1,588.4 1247.3,588.4 1247.5,588.4 1247.7,588.4 1247.9,588.5 1248.0,588.5 1248.1,588.5 1248.3,588.5 1248.5,588.5 1248.7,588.5 1248.9,588.5 1249.0,588.5 1249.1,588.6 1249.3,588.6 1249.5,588.6 1249.7,588.6 1249.9,588.6 1250.0,588.6 1250.1,588.6 1250.3,588.6 1251.0,588.7 1252.0,588.7 1253.0,588.8 1254.0,588.8 1255.0,588.9 1256.0,588.9 1257.0,588.9 1258.0,589.0 1259.0,589.0 1260.0,589.0 1261.0,589.0 1262.0,589.1 1263.0,589.1 1264.0,589.1 1265.0,589.1 1266.0,589.1 1267.0,589.1 1268.0,589.1 1269.0,589.2 1270.0,589.2 1271.0,589.2 1272.0,589.2 1273.0,589.2 1274.0,589.2 1275.0,589.2 1276.0,589.2 1277.0,589.2 1278.0,589.2 1279.0,589.2 1280.0,589.2 1281.0,589.2 1282.0,589.2 1283.0,589.2 1284.0,589.2 1285.0,589.2 1286.0,589.2 1287.0,589.2 1288.0,589.2 1289.0,589.2 1290.0,589.2 1291.0,589.2 1292.0,589.2 1293.0,589.2 1294.0,589.2 1295.0,589.2 1296.0,589.2 1297.0,589.2 1298.0,589.2 1299.0,589.2 1300.0,589.2 1301.0,589.2 1302.0,589.2 1303.0,589.2 1304.0,589.2 1305.0,589.2 1306.0,589.2 1307.0,589.2 1308.0,589.2 1309.0,589.2 1310.0,589.2 1311.0,589.2 1312.0,589.2 1313.0,589.2 1314.0,589.1 1315.0,589.1 1316.0,589.1 1317.0,589.1 1318.0,589.1 1319.0,589.1 1320.0,589.1 1321.0,589.1 1322.0,589.1 1323.0,589.1 1324.0,589.1 1325.0,589.1 1326.0,589.0 1327.0,589.0 1328.0,589.0 1329.0,589.0 1330.0,589.0 1331.0,589.0 1332.0,589.0 1333.0,589.0 1334.0,589.0 1335.0,588.9 1336.0,588.9 1337.0,588.9 1338.0,588.9 1339.0,588.9 1340.0,588.9 1341.0,588.8 1342.0,588.8 1343.0,588.8 1344.0,588.8 1345.0,588.8 1346.0,588.8 1347.0,588.7 1348.0,588.7 1349.0,588.7 1350.0,588.7 1351.0,588.7 1352.0,588.6 1353.0,588.6 1354.0,588.6 1355.0,588.6 1356.0,588.5 1357.0,588.5 1358.0,588.5 1359.0,588.5 1360.0,588.4 1361.0,588.4 1362.0,588.4 1363.0,588.3 1364.0,588.3 1365.0,588.3 1366.0,588.2 1367.0,588.2 1368.0,588.1 1369.0,588.1 1370.0,588.0 1371.0,588.0 1372.0,587.9 1373.0,587.9 1374.0,587.8 1375.0,587.8 1376.0,587.7 1377.0,587.6 1378.0,587.5 1379.0,587.5 1380.0,587.4 1381.0,587.3 1382.0,587.2 1383.0,587.1 1384.0,586.9 1385.0,586.8 1386.0,586.7 1387.0,586.5 1388.0,586.3 1389.0,586.1 1390.0,585.9 1391.0,585.7 1392.0,585.4 1393.0,585.1 1394.0,584.8 1395.0,584.4 1396.0,584.0 1397.0,583.5 1398.0,583.0 1399.0,582.4 1400.0,581.7 1400.9,581.0 1401.0,580.9 1401.1,580.8 1401.3,580.7 1401.5,580.5 1401.7,580.3 1401.9,580.1 1402.0,580.0 1402.1,579.9 1402.3,579.7 1402.5,579.5 1402.7,579.3 1402.9,579.1 1403.0,579.0 1403.1,578.9 1403.3,578.7 1403.5,578.4 1403.7,578.2 1403.9,578.0 1404.0,577.9 1404.1,577.7 1404.3,577.5 1404.5,577.2 1404.7,577.0 1404.9,576.7 1405.0,576.6 1405.1,576.4 1405.3,576.1 1405.5,575.9 1405.7,575.6 1405.9,575.3 1406.0,575.1 1406.1,575.0 1406.3,574.7 1406.5,574.4 1406.7,574.1 1406.9,573.8 1407.0,573.6 1407.1,573.4 1407.3,573.1 1407.5,572.8 1407.7,572.5 1407.9,572.2 1408.0,572.0 1408.1,571.9 1408.3,571.5 1408.5,571.2 1408.7,570.9 1408.9,570.6 1409.0,570.4 1409.1,570.3 1409.3,570.0 1409.5,569.7 1409.7,569.4 1409.9,569.1 1410.0,569.0 1410.1,568.9 1410.3,568.6 1410.5,568.4 1410.7,568.2 1410.9,567.9 1411.0,567.8 1411.1,567.8 1411.3,567.6 1411.5,567.4 1411.7,567.3 1411.9,567.2 1412.0,567.1 1412.1,567.1 1412.3,567.0 1412.5,566.9 1412.7,566.9 1412.9,566.9 1413.0,566.9 1413.1,566.9 1413.3,566.9 1413.5,567.0 1413.7,567.0 1413.9,567.1 1414.0,567.2 1414.1,567.3 1414.3,567.4 1414.5,567.6 1414.7,567.7 1414.9,567.9 1415.0,568.0 1415.1,568.1 1415.3,568.4 1415.5,568.6 1415.7,568.8 1415.9,569.1 1416.0,569.2 1416.1,569.4 1416.3,569.7 1416.5,569.9 1416.7,570.2 1416.9,570.5 1417.0,570.7 1417.1,570.9 1417.3,571.2 1417.5,571.5 1417.7,571.8 1417.9,572.1 1418.0,572.3 1418.1,572.4 1418.3,572.7 1418.5,573.1 1418.7,573.4 1418.9,573.7 1419.0,573.8 1419.1,574.0 1419.3,574.3 1419.5,574.6 1419.7,574.9 1419.9,575.2 1420.0,575.3 1420.1,575.5 1420.3,575.8 1420.5,576.1 1420.7,576.3 1420.9,576.6 1421.0,576.7 1421.1,576.9 1421.3,577.1 1421.5,577.4 1421.7,577.6 1421.9,577.9 1422.0,578.0 1422.1,578.1 1422.3,578.3 1422.5,578.6 1422.7,578.8 1422.9,579.0 1423.0,579.1 1423.1,579.2 1423.3,579.4 1423.5,579.6 1423.7,579.8 1423.9,580.0 1424.0,580.1 1424.1,580.2 1424.3,580.3 1424.5,580.5 1424.7,580.7 1424.9,580.9 1425.0,580.9 1426.0,581.7 1427.0,582.3 1428.0,582.9 1429.0,583.4 1430.0,583.9 1431.0,584.2 1432.0,584.6 1433.0,584.9 1434.0,585.2 1435.0,585.4 1436.0,585.6 1437.0,585.8 1438.0,586.0 1439.0,586.1 1440.0,586.2 1441.0,586.4 1442.0,586.5 1443.0,586.6 1444.0,586.7 1445.0,586.7 1446.0,586.8 1447.0,586.9 1448.0,586.9 1449.0,587.0 1450.0,587.0 1451.0,587.1 1452.0,587.1 1453.0,587.2 1454.0,587.2 1455.0,587.2 1456.0,587.3 1457.0,587.3 1458.0,587.3 1459.0,587.3 1460.0,587.3 1461.0,587.3 1462.0,587.4 1463.0,587.4 1464.0,587.4 1465.0,587.4 1466.0,587.4 1467.0,587.4 1468.0,587.4 1469.0,587.4 1470.0,587.4 1471.0,587.4 1472.0,587.4 1473.0,587.4 1474.0,587.4 1475.0,587.4 1476.0,587.3 1477.0,587.3 1478.0,587.3 1479.0,587.3 1480.0,587.2 1481.0,587.2 1482.0,587.2 1483.0,587.1 1484.0,587.1 1485.0,587.0 1486.0,586.9 1487.0,586.9 1488.0,586.8 1489.0,586.7 1490.0,586.6 1491.0,586.5 1492.0,586.4 1493.0,586.2 1494.0,586.1 1495.0,585.9 1496.0,585.7 1497.0,585.5 1498.0,585.2 1499.0,585.0 1500.0,584.6 1501.0,584.3 1502.0,583.8 1503.0,583.3 1503.4,583.1 1503.6,583.0 1503.8,582.9 1504.0,582.7 1504.2,582.6 1504.4,582.5 1504.6,582.4 1504.8,582.2 1505.0,582.1 1505.2,581.9 1505.4,581.8 1505.6,581.6 1505.8,581.5 1506.0,581.3 1506.2,581.2 1506.4,581.0 1506.6,580.8 1506.8,580.7 1507.0,580.5 1507.2,580.3 1507.4,580.1 1507.6,579.9 1507.8,579.7 1508.0,579.5 1508.2,579.3 1508.4,579.1 1508.6,578.9 1508.8,578.7 1509.0,578.5 1509.2,578.2 1509.4,578.0 1509.6,577.8 1509.8,577.5 1510.0,577.3 1510.2,577.1 1510.4,576.9 1510.6,576.6 1510.8,576.4 1511.0,576.2 1511.2,575.9 1511.4,575.7 1511.6,575.5 1511.8,575.2 1512.0,575.0 1512.2,574.8 1512.4,574.6 1512.6,574.4 1512.8,574.2 1513.0,574.0 1513.2,573.9 1513.4,573.7 1513.6,573.6 1513.8,573.4 1514.0,573.3 1514.2,573.2 1514.4,573.1 1514.6,573.1 1514.8,573.0 1515.0,573.0 1515.2,572.9 1515.4,572.9 1515.6,572.9 1515.8,572.9 1516.0,573.0 1516.2,573.0 1516.4,573.1 1516.6,573.2 1516.8,573.3 1517.0,573.4 1517.2,573.6 1517.4,573.7 1517.6,573.9 1517.8,574.0 1518.0,574.2 1518.2,574.4 1518.4,574.6 1518.6,574.8 1518.8,575.0 1519.0,575.2 1519.2,575.4 1519.4,575.7 1519.6,575.9 1519.8,576.1 1520.0,576.4 1520.2,576.6 1520.4,576.8 1520.6,577.1 1520.8,577.3 1521.0,577.5 1521.2,577.8 1521.4,578.0 1521.6,578.2 1521.8,578.4 1522.0,578.7 1522.2,578.9 1522.4,579.1 1522.6,579.3 1522.8,579.5 1523.0,579.7 1523.2,579.9 1523.4,580.1 1523.6,580.3 1523.8,580.5 1524.0,580.6 1524.2,580.8 1524.4,581.0 1524.6,581.2 1524.8,581.3 1525.0,581.5 1525.2,581.6 1525.4,581.8 1525.6,581.9 1525.8,582.1 1526.0,582.2 1526.2,582.4 1526.4,582.5 1526.6,582.6 1526.8,582.7 1527.0,582.9 1527.2,583.0 1527.4,583.1 1528.0,583.4 1529.0,583.9 1530.0,584.3 1531.0,584.7 1532.0,585.0 1533.0,585.3 1534.0,585.6 1535.0,585.8 1536.0,586.0 1537.0,586.1 1538.0,586.3 1539.0,586.4 1540.0,586.5 1541.0,586.6 1542.0,586.7 1543.0,586.8 1544.0,586.9 1545.0,587.0 1546.0,587.0 1547.0,587.1 1548.0,587.1 1549.0,587.2 1550.0,587.2 1551.0,587.2 1552.0,587.2 1553.0,587.3 1554.0,587.3 1555.0,587.3 1556.0,587.3 1557.0,587.3 1558.0,587.3 1559.0,587.3 1560.0,587.3 1561.0,587.3 1562.0,587.3 1563.0,587.3 1564.0,587.2 1565.0,587.2 1566.0,587.2 1567.0,587.2 1568.0,587.1 1569.0,587.1 1570.0,587.1 1571.0,587.0 1572.0,587.0 1573.0,586.9 1574.0,586.9 1575.0,586.8 1576.0,586.7 1577.0,586.7 1578.0,586.6 1579.0,586.5 1580.0,586.4 1581.0,586.4 1582.0,586.3 1583.0,586.2 1584.0,586.1 1585.0,586.0 1586.0,585.8 1587.0,585.7 1588.0,585.6 1589.0,585.4 1590.0,585.3 1591.0,585.1 1592.0,584.9 1593.0,584.7 1594.0,584.5 1595.0,584.3 1596.0,584.0 1597.0,583.8 1598.0,583.5 1599.0,583.2 1600.0,582.9 1601.0,582.5 1602.0,582.1 1603.0,581.7 1604.0,581.2 1605.0,580.7 1606.0,580.2 1607.0,579.5 1608.0,578.8 1609.0,578.1 1610.0,577.2 1611.0,576.3 1611.7,575.5 1611.9,575.3 1612.0,575.2 1612.1,575.1 1612.3,574.8 1612.5,574.6 1612.7,574.3 1612.9,574.1 1613.0,573.9 1613.1,573.8 1613.3,573.5 1613.5,573.2 1613.7,572.9 1613.9,572.7 1614.0,572.5 1614.1,572.3 1614.3,572.0 1614.5,571.7 1614.7,571.4 1614.9,571.1 1615.0,570.9 1615.1,570.7 1615.3,570.4 1615.5,570.0 1615.7,569.6 1615.9,569.2 1616.0,569.0 1616.1,568.8 1616.3,568.4 1616.5,568.0 1616.7,567.6 1616.9,567.2 1617.0,567.0 1617.1,566.7 1617.3,566.3 1617.5,565.8 1617.7,565.4 1617.9,564.9 1618.0,564.6 1618.1,564.4 1618.3,563.9 1618.5,563.4 1618.7,562.9 1618.9,562.4 1619.0,562.2 1619.1,561.9 1619.3,561.4 1619.5,560.9 1619.7,560.4 1619.9,559.9 1620.0,559.7 1620.1,559.4 1620.3,558.9 1620.5,558.4 1620.7,558.0 1620.9,557.5 1621.0,557.3 1621.1,557.1 1621.3,556.7 1621.5,556.3 1621.7,555.9 1621.9,555.6 1622.0,555.4 1622.1,555.2 1622.3,555.0 1622.5,554.7 1622.7,554.5 1622.9,554.3 1623.0,554.2 1623.1,554.2 1623.3,554.1 1623.5,554.0 1623.7,554.0 1623.9,554.0 1624.0,554.0 1624.1,554.1 1624.3,554.2 1624.5,554.3 1624.7,554.5 1624.9,554.7 1625.0,554.8 1625.1,554.9 1625.3,555.2 1625.5,555.5 1625.7,555.9 1625.9,556.3 1626.0,556.5 1626.1,556.7 1626.3,557.1 1626.5,557.5 1626.7,558.0 1626.9,558.4 1627.0,558.7 1627.1,558.9 1627.3,559.4 1627.5,559.9 1627.7,560.4 1627.9,560.9 1628.0,561.1 1628.1,561.4 1628.3,561.9 1628.5,562.4 1628.7,562.9 1628.9,563.4 1629.0,563.6 1629.1,563.9 1629.3,564.4 1629.5,564.9 1629.7,565.3 1629.9,565.8 1630.0,566.0 1630.1,566.2 1630.3,566.7 1630.5,567.1 1630.7,567.6 1630.9,568.0 1631.0,568.2 1631.1,568.4 1631.3,568.8 1631.5,569.2 1631.7,569.6 1631.9,570.0 1632.0,570.2 1632.1,570.3 1632.3,570.7 1632.5,571.0 1632.7,571.4 1632.9,571.7 1633.0,571.9 1633.1,572.0 1633.3,572.4 1633.5,572.7 1633.7,573.0 1633.9,573.3 1634.0,573.4 1634.1,573.5 1634.3,573.8 1634.5,574.1 1634.7,574.4 1634.9,574.6 1635.0,574.7 1635.1,574.9 1635.3,575.1 1635.5,575.3 1635.7,575.6 1636.0,575.9 1637.0,577.0 1638.0,577.9 1639.0,578.7 1640.0,579.5 1641.0,580.2 1642.0,580.8 1643.0,581.4 1644.0,581.9 1645.0,582.4 1646.0,582.8 1647.0,583.2 1648.0,583.6 1649.0,584.0 1650.0,584.3 1651.0,584.6 1652.0,584.9 1653.0,585.2 1654.0,585.5 1655.0,585.7 1656.0,586.0 1657.0,586.2 1658.0,586.4 1659.0,586.6 1660.0,586.8 1661.0,587.0 1662.0,587.1 1663.0,587.3 1664.0,587.5 1665.0,587.6 1666.0,587.7 1667.0,587.9 1668.0,588.0 1669.0,588.1 1670.0,588.2 1671.0,588.3 1672.0,588.5 1673.0,588.6 1674.0,588.6 1675.0,588.7 1676.0,588.8 1677.0,588.9 1678.0,589.0 1679.0,589.1 1680.0,589.2 1681.0,589.2 1682.0,589.3 1683.0,589.4 1684.0,589.4 1685.0,589.5 1686.0,589.6 1687.0,589.6 1688.0,589.7 1689.0,589.7 1690.0,589.8 1691.0,589.8 1692.0,589.9 1693.0,589.9 1694.0,590.0 1695.0,590.0 1696.0,590.1 1697.0,590.1 1698.0,590.1 1699.0,590.2 1700.0,590.2 1701.0,590.3 1702.0,590.3 1703.0,590.3 1704.0,590.3 1705.0,590.3 1706.0,590.3 1707.0,590.4 1708.0,590.4 1709.0,590.4 1710.0,590.4 1711.0,590.4 1712.0,590.4 1713.0,590.4 1714.0,590.5 1715.0,590.5 1716.0,590.5 1717.0,590.5 1718.0,590.5 1719.0,590.5 1720.0,590.5 1721.0,590.5 1722.0,590.5 1723.0,590.5 1724.0,590.5 1725.0,590.5 1726.0,590.5 1727.0,590.6 1728.0,590.6 1729.0,590.6 1730.0,590.6 1731.0,590.6 1732.0,590.6 1733.0,590.6 1734.0,590.6 1735.0,590.6 1736.0,590.6 1737.0,590.6 1738.0,590.6 1739.0,590.6 1740.0,590.6 1741.0,590.6 1742.0,590.6 1743.0,590.6 1744.0,590.6 1745.0,590.6 1746.0,590.6 1747.0,590.6 1748.0,590.6 1749.0,590.6 1750.0,590.6 1751.0,590.6 1752.0,590.6 1753.0,590.6 1754.0,590.6 1755.0,590.6 1756.0,590.6 1757.0,590.6 1758.0,590.6 1759.0,590.6 1760.0,590.6 1761.0,590.6 1762.0,590.6 1763.0,590.6" fill="none" stroke="#ff0000" stroke-width="4.5" stroke-linejoin="round" stroke-linecap="round"/>
<g stroke="#000" stroke-width="4.0" fill="none" stroke-linecap="butt">
<path d="M1068.4,601.3 V6.75 H1764.8 V601.3 Z" stroke-linejoin="round"/>
<line x1="1055.6" y1="593.2" x2="1068.4" y2="593.2"/>
<line x1="1055.6" y1="488.44" x2="1068.4" y2="488.44"/>
<line x1="1055.6" y1="383.68" x2="1068.4" y2="383.68"/>
<line x1="1055.6" y1="278.92" x2="1068.4" y2="278.92"/>
<line x1="1055.6" y1="174.16" x2="1068.4" y2="174.16"/>
<line x1="1055.6" y1="69.4" x2="1068.4" y2="69.4"/>
<line x1="1061" y1="540.82" x2="1068.4" y2="540.82"/>
<line x1="1061" y1="436.06" x2="1068.4" y2="436.06"/>
<line x1="1061" y1="331.3" x2="1068.4" y2="331.3"/>
<line x1="1061" y1="226.54" x2="1068.4" y2="226.54"/>
<line x1="1061" y1="121.78" x2="1068.4" y2="121.78"/>
<line x1="1061" y1="17.02" x2="1068.4" y2="17.02"/>
<line x1="1068.4" y1="601.3" x2="1068.4" y2="614"/>
<line x1="1198.95" y1="601.3" x2="1198.95" y2="614"/>
<line x1="1329.49" y1="601.3" x2="1329.49" y2="614"/>
<line x1="1460.04" y1="601.3" x2="1460.04" y2="614"/>
<line x1="1590.58" y1="601.3" x2="1590.58" y2="614"/>
<line x1="1721.12" y1="601.3" x2="1721.12" y2="614"/>
<line x1="1133.67" y1="601.3" x2="1133.67" y2="608.6"/>
<line x1="1264.22" y1="601.3" x2="1264.22" y2="608.6"/>
<line x1="1394.76" y1="601.3" x2="1394.76" y2="608.6"/>
<line x1="1525.31" y1="601.3" x2="1525.31" y2="608.6"/>
<line x1="1655.85" y1="601.3" x2="1655.85" y2="608.6"/>
</g>
<g font-family="'Liberation Sans', Arial, sans-serif" font-weight="bold" fill="#000">
<text transform="translate(1049.5,604.3) scale(1,1.1)" font-size="34" text-anchor="end">0</text>
<text transform="translate(1049.5,499.54) scale(1,1.1)" font-size="34" text-anchor="end">2500</text>
<text transform="translate(1049.5,394.78) scale(1,1.1)" font-size="34" text-anchor="end">5000</text>
<text transform="translate(1049.5,290.02) scale(1,1.1)" font-size="34" text-anchor="end">7500</text>
<text transform="translate(1049.5,185.26) scale(1,1.1)" font-size="34" text-anchor="end">10000</text>
<text transform="translate(1049.5,80.5) scale(1,1.1)" font-size="34" text-anchor="end">12500</text>
<text transform="translate(1068.4,650.5) scale(1,1.07)" font-size="36" text-anchor="middle">0</text>
<text transform="translate(1198.95,650.5) scale(1,1.07)" font-size="36" text-anchor="middle">150</text>
<text transform="translate(1329.49,650.5) scale(1,1.07)" font-size="36" text-anchor="middle">300</text>
<text transform="translate(1460.04,650.5) scale(1,1.07)" font-size="36" text-anchor="middle">450</text>
<text transform="translate(1590.58,650.5) scale(1,1.07)" font-size="36" text-anchor="middle">600</text>
<text transform="translate(1721.12,650.5) scale(1,1.07)" font-size="36" text-anchor="middle">750</text>
<text transform="translate(1081.3,57.5) scale(1,1.02)" font-size="50">(b)</text>
<text transform="translate(947,329) rotate(-90)" font-size="36" letter-spacing="0.9" text-anchor="middle">Intensity (a.u.)</text>
<text x="1244.2" y="696.5" font-size="36">Raman shift (cm<tspan font-size="17.5" dx="2" dy="-22.5">-1</tspan><tspan dx="2.5" dy="22.5">)</tspan></text>
<text transform="translate(1199.6,141.6) rotate(-90)" font-size="30">143 cm<tspan font-size="28.5" dy="-14.4">-1</tspan></text>
<text transform="translate(1249.5,573.5) rotate(-90)" font-size="29.2">195 cm<tspan font-size="28" dy="-14.4">-1</tspan></text>
<text transform="translate(1423,557) rotate(-90)" font-size="30">395 cm<tspan font-size="17" dy="-14.4">-1</tspan></text>
<text transform="translate(1526.6,565.3) rotate(-90)" font-size="30">515 cm<tspan font-size="17" dy="-14.4">-1</tspan></text>
<text transform="translate(1634.3,542.9) rotate(-90)" font-size="30">638 cm<tspan font-size="17" dy="-14.4">-1</tspan></text>
</g>
<text transform="translate(1215,107.05) scale(1,1.03)" font-family="'Liberation Sans', Arial, sans-serif" font-weight="bold" font-size="34.5" fill="#0000ff" text-anchor="middle">A</text>
<text transform="translate(1267.8,544) scale(1,1.03)" font-family="'Liberation Sans', Arial, sans-serif" font-weight="bold" font-size="34.5" fill="#0000ff" text-anchor="middle">A</text>
<text transform="translate(1441.88,527.05) scale(1,1.03)" font-family="'Liberation Sans', Arial, sans-serif" font-weight="bold" font-size="34.5" fill="#0000ff" text-anchor="middle">A</text>
<text transform="translate(1546.6,531) scale(1,1.03)" font-family="'Liberation Sans', Arial, sans-serif" font-weight="bold" font-size="34.5" fill="#0000ff" text-anchor="middle">A</text>
<text transform="translate(1654,506.3) scale(1,1.03)" font-family="'Liberation Sans', Arial, sans-serif" font-weight="bold" font-size="34.5" fill="#0000ff" text-anchor="middle">A</text>
<rect x="1429.4" y="21" width="329.2" height="54" fill="#000"/>
<rect x="1421.5" y="13.5" width="329.5" height="53" fill="#fff" stroke="#555" stroke-width="1.5"/>
<line x1="1438" y1="37.8" x2="1501.3" y2="37.8" stroke="#ff0000" stroke-width="4.4" stroke-linecap="round"/>
<text transform="translate(1511.3,47.9) scale(1,1.07)" font-family="'Liberation Sans', Arial, sans-serif" font-weight="bold" font-size="36" fill="#000">Anatase TiO</text>
<text transform="translate(1722.6,57.9) scale(1,1.07)" font-family="'Liberation Sans', Arial, sans-serif" font-weight="bold" font-size="36" fill="#000">2</text>
</svg>
</body></html>
